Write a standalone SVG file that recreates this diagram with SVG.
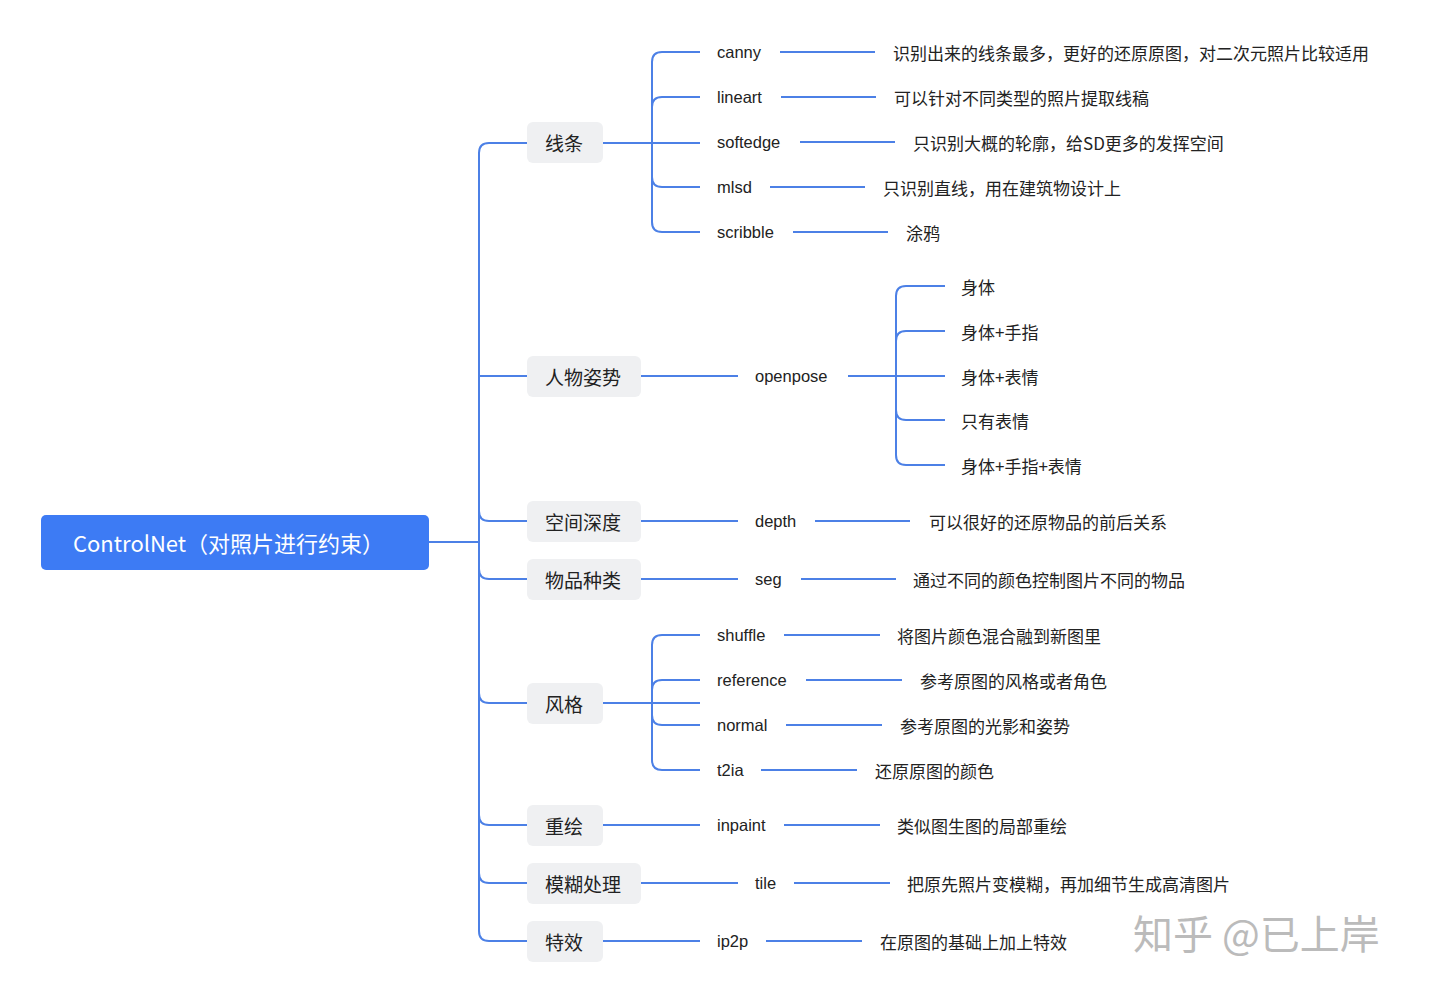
<svg xmlns="http://www.w3.org/2000/svg" width="1440" height="990" viewBox="0 0 1440 990">
<style>
.c{fill:none;stroke:#4C80E6;stroke-width:2}
.b{fill:#EFF0F2}
.bt{font-family:"Noto Sans CJK SC","Liberation Sans",sans-serif;font-size:19px;fill:#222;dominant-baseline:central}
.t{font-family:"Liberation Sans","Noto Sans CJK SC",sans-serif;font-size:16.5px;fill:#222;dominant-baseline:central}
.d{font-family:"Noto Sans CJK SC","Liberation Sans",sans-serif;font-size:17px;fill:#222;dominant-baseline:central}
</style>
<rect width="1440" height="990" fill="#fff"/>
<g id="connectors">
<path class="c" d="M429 542H479M527 143H489Q479 143 479 153V931Q479 941 489 941H527M479 376Q479 376 489 376H527M479 511Q479 521 489 521H527M479 569Q479 579 489 579H527M479 693Q479 703 489 703H527M479 815Q479 825 489 825H527M479 873Q479 883 489 883H527"/>
<path class="c" d="M603 143H700M700 52H662Q652 52 652 62V222Q652 232 662 232H700M652 107Q652 97 662 97H700M652 177Q652 187 662 187H700"/>
<path class="c" d="M780 52H875M781 97H876M800 142H895M770 187H865M793 232H888"/>
<path class="c" d="M641 376H738M848 376H945M945 286H906Q896 286 896 296V455Q896 465 906 465H945M896 341Q896 331 906 331H945M896 410Q896 420 906 420H945"/>
<path class="c" d="M641 521H738M815 521H910M641 579H738M801 579H896"/>
<path class="c" d="M603 703H700M700 635H662Q652 635 652 645V760Q652 770 662 770H700M652 690Q652 680 662 680H700M652 715Q652 725 662 725H700"/>
<path class="c" d="M784 635H880M806 680H902M786 725H882M761 770H857"/>
<path class="c" d="M603 825H700M784 825H880M641 883H738M794 883H890M603 941H700M766 941H862"/>
</g>
<g id="root"><rect x="41" y="515" width="388" height="55" rx="5" fill="#3D7BF4"/><text x="73" y="542" font-family="Noto Sans CJK SC,Liberation Sans,sans-serif" font-size="22" fill="#fff" dominant-baseline="central">ControlNet（对照片进行约束）</text></g>
<g id="n-xiantiao"><rect class="b" x="527" y="122" width="76" height="41" rx="6"/><text class="bt" x="545" y="142">线条</text></g>
<g id="n-renwu"><rect class="b" x="527" y="356" width="114" height="41" rx="6"/><text class="bt" x="545" y="376">人物姿势</text></g>
<g id="n-kongjian"><rect class="b" x="527" y="501" width="114" height="41" rx="6"/><text class="bt" x="545" y="521">空间深度</text></g>
<g id="n-wupin"><rect class="b" x="527" y="559" width="114" height="41" rx="6"/><text class="bt" x="545" y="579">物品种类</text></g>
<g id="n-fengge"><rect class="b" x="527" y="683" width="76" height="41" rx="6"/><text class="bt" x="545" y="703">风格</text></g>
<g id="n-chonghui"><rect class="b" x="527" y="805" width="76" height="41" rx="6"/><text class="bt" x="545" y="825">重绘</text></g>
<g id="n-mohu"><rect class="b" x="527" y="863" width="114" height="41" rx="6"/><text class="bt" x="545" y="883">模糊处理</text></g>
<g id="n-texiao"><rect class="b" x="527" y="921" width="76" height="41" rx="6"/><text class="bt" x="545" y="941">特效</text></g>
<g id="leaves">
<text class="t" x="717" y="52">canny</text><text class="d" x="893" y="52">识别出来的线条最多，更好的还原原图，对二次元照片比较适用</text>
<text class="t" x="717" y="97">lineart</text><text class="d" x="894" y="97">可以针对不同类型的照片提取线稿</text>
<text class="t" x="717" y="142">softedge</text><text class="d" x="913" y="142">只识别大概的轮廓，给SD更多的发挥空间</text>
<text class="t" x="717" y="187">mlsd</text><text class="d" x="883" y="187">只识别直线，用在建筑物设计上</text>
<text class="t" x="717" y="232">scribble</text><text class="d" x="906" y="232">涂鸦</text>
<text class="t" x="755" y="376">openpose</text>
<text class="d" x="961" y="286">身体</text><text class="d" x="961" y="331">身体+手指</text><text class="d" x="961" y="376">身体+表情</text><text class="d" x="961" y="420">只有表情</text><text class="d" x="961" y="465">身体+手指+表情</text>
<text class="t" x="755" y="521">depth</text><text class="d" x="929" y="521">可以很好的还原物品的前后关系</text>
<text class="t" x="755" y="579">seg</text><text class="d" x="913" y="579">通过不同的颜色控制图片不同的物品</text>
<text class="t" x="717" y="635">shuffle</text><text class="d" x="897" y="635">将图片颜色混合融到新图里</text>
<text class="t" x="717" y="680">reference</text><text class="d" x="920" y="680">参考原图的风格或者角色</text>
<text class="t" x="717" y="725">normal</text><text class="d" x="900" y="725">参考原图的光影和姿势</text>
<text class="t" x="717" y="770">t2ia</text><text class="d" x="875" y="770">还原原图的颜色</text>
<text class="t" x="717" y="825">inpaint</text><text class="d" x="897" y="825">类似图生图的局部重绘</text>
<text class="t" x="755" y="883">tile</text><text class="d" x="907" y="883">把原先照片变模糊，再加细节生成高清图片</text>
<text class="t" x="717" y="941">ip2p</text><text class="d" x="880" y="941">在原图的基础上加上特效</text>
</g>
<text x="1133" y="932" font-family="Noto Sans CJK SC,sans-serif" font-size="40" fill="#bbb" dominant-baseline="central">知乎 @已上岸</text>
</svg>
